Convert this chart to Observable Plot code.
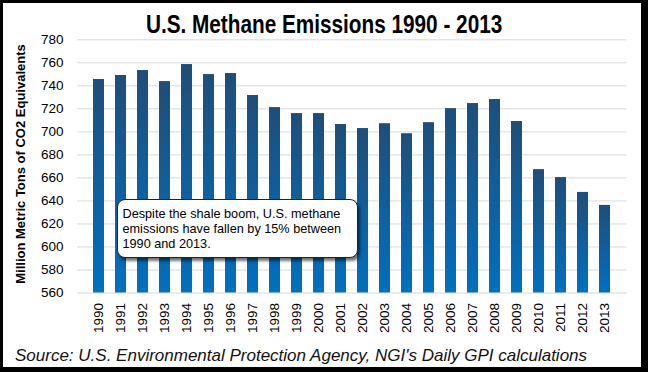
<!DOCTYPE html>
<html>
<head>
<meta charset="utf-8">
<script src="https://cdn.jsdelivr.net/npm/d3@7"></script>
<script src="https://cdn.jsdelivr.net/npm/@observablehq/plot@0.6"></script>
<style>
  html, body { margin: 0; padding: 0; background: #fff; }
  #page { position: relative; width: 648px; height: 372px; background: #000; overflow: hidden; font-family: "Liberation Sans", Arial, sans-serif; }
  #inner { position: absolute; left: 3px; top: 3px; width: 638px; height: 364px; background: #fff; }
  #title { position: absolute; left: 0; top: 9.3px; width: 648px; text-align: center; font-family: "Liberation Sans", Arial, sans-serif; font-weight: bold; font-size: 25px; line-height: 30px; color: #000; white-space: nowrap; transform: scaleX(0.83); transform-origin: 324.5px 50%; }
  #chart { position: absolute; left: 0; top: 0; }
  #note { position: absolute; left: 117px; top: 199px; width: 241px; height: 59px; box-sizing: border-box; background: #fff; border: 1.5px solid #222; border-radius: 8px; box-shadow: 2px 3px 3px rgba(0,0,0,0.55); padding: 6.9px 0 0 4.5px; font-size: 12.7px; line-height: 15px; color: #000; white-space: nowrap; }
  #source { position: absolute; left: 15px; top: 346px; font-style: italic; font-size: 17px; line-height: 20px; color: #111; white-space: nowrap; }
</style>
</head>
<body>
<div id="page">
  <div id="inner"></div>
  <div id="chart"></div>
  <div id="title">U.S. Methane Emissions 1990 - 2013</div>
  <div id="note">Despite the shale boom, U.S. methane<br>emissions have fallen by 15% between<br>1990 and 2013.</div>
  <div id="source">Source: U.S. Environmental Protection Agency, NGI's Daily GPI calculations</div>
</div>
<script>
const years = ["1990","1991","1992","1993","1994","1995","1996","1997","1998","1999","2000","2001","2002","2003","2004","2005","2006","2007","2008","2009","2010","2011","2012","2013"];
const emissions = [745.5, 749, 753.3, 743.7, 758.5, 749.8, 750.7, 731.6, 721.1, 715.9, 715.9, 706.4, 702.9, 707.1, 698.4, 708, 720.2, 724.6, 728.1, 709, 667.2, 660.3, 647.4, 636.1];
const yTicks = [560, 580, 600, 620, 640, 660, 680, 700, 720, 740, 760, 780];
const yTitle = "Million Metric Tons of CO2 Equivalents";

const data = years.map((y, i) => ({year: y, value: emissions[i]}));

const chart = Plot.plot({
  width: 648,
  height: 345,
  marginLeft: 77,
  marginRight: 21.5,
  marginTop: 39.3,
  marginBottom: 52.5,
  style: {background: "transparent", fontFamily: "'Liberation Sans', Arial, sans-serif", fontSize: "13.5px", color: "#000"},
  x: {type: "band", domain: years, paddingInner: 0.5, paddingOuter: 0.25, label: null, tickSize: 0, tickRotate: -90, tickPadding: 10},
  y: {domain: [560, 780], ticks: yTicks, label: null, tickSize: 0, tickPadding: 14},
  marks: [
    Plot.gridY(yTicks, {stroke: "#d9d9d9", strokeOpacity: 1, strokeWidth: 1}),
    Plot.barY(data, {x: "year", y1: 560, y2: "value", fill: "url(#barGrad)"})
  ]
});

const svg = d3.select(chart);
const grad = svg.insert("defs", ":first-child")
  .append("linearGradient")
  .attr("id", "barGrad")
  .attr("x1", 0).attr("y1", 0).attr("x2", 0).attr("y2", 1);
grad.append("stop").attr("offset", "0%").attr("stop-color", "#1f4e79");
grad.append("stop").attr("offset", "100%").attr("stop-color", "#0070c0");

svg.append("text")
  .attr("transform", "translate(24.5,164) rotate(-90)")
  .attr("text-anchor", "middle")
  .attr("font-weight", "bold")
  .attr("font-size", "13px")
  .attr("fill", "#000")
  .text(yTitle);

document.getElementById("chart").appendChild(chart);
</script>
</body>
</html>
